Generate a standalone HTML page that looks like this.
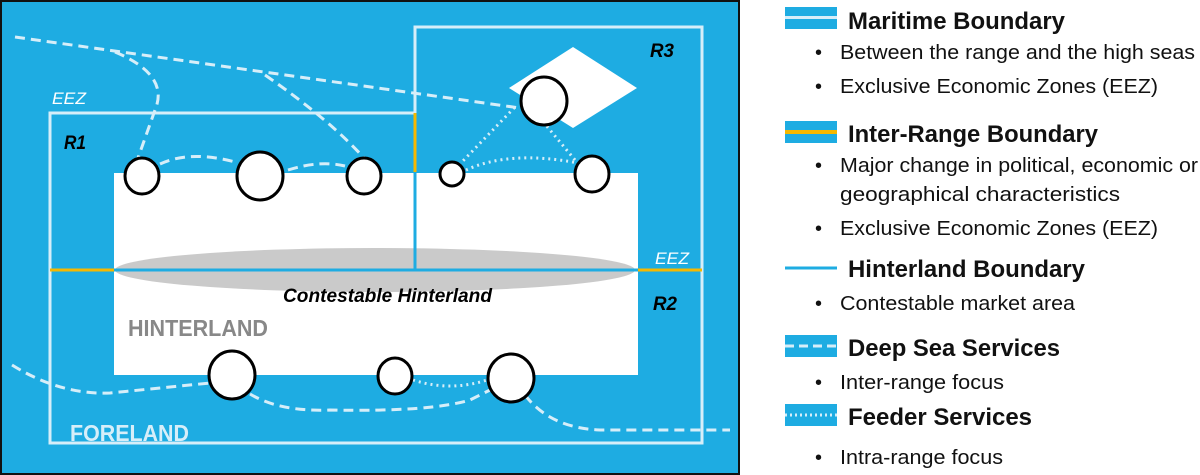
<!DOCTYPE html>
<html><head><style>
body{margin:0;width:1200px;height:475px;background:#fff;overflow:hidden;font-family:"Liberation Sans",sans-serif}
svg{position:absolute;left:0;top:0}
</style></head><body>
<svg width="1200" height="475" viewBox="0 0 1200 475">
<rect x="1" y="1" width="738" height="473" fill="#1eace2" stroke="#111" stroke-width="2"/>
<g fill="none" stroke="#d6eef9" stroke-width="3">
<polyline points="415,113 415,27 702,27 702,443 50,443 50,113 415,113"/>
</g>
<rect x="114" y="173" width="524" height="202" fill="#fff"/>
<ellipse cx="375" cy="270" rx="260" ry="22" fill="#cacaca"/>
<line x1="415" y1="113" x2="415" y2="172" stroke="#f5b800" stroke-width="3"/>
<line x1="415" y1="173" x2="415" y2="270" stroke="#1eace2" stroke-width="3"/>
<line x1="50" y1="270" x2="114" y2="270" stroke="#f5b800" stroke-width="3"/>
<line x1="638" y1="270" x2="702" y2="270" stroke="#f5b800" stroke-width="3"/>
<line x1="114" y1="270" x2="638" y2="270" stroke="#1eace2" stroke-width="3"/>
<polygon points="573,47 637,88 573,128 509,88" fill="#fff"/>
<g fill="none" stroke="#d6eef9" stroke-width="3" stroke-dasharray="10,6">
<path d="M15,37 L520,108"/>
<path d="M115,52 Q170,75 155,110 L138,158"/>
<path d="M265,75 Q330,120 364,158"/>
<path d="M160,164 Q190,150 235,162"/>
<path d="M288,170 Q320,160 345,166"/>
<path d="M12,365 Q60,395 110,393 L210,383"/>
<path d="M250,394 Q280,412 330,410 Q430,412 470,400 L490,390"/>
<path d="M525,395 Q550,428 600,430 L730,430"/>
</g>
<g fill="none" stroke="#d6eef9" stroke-width="3" stroke-dasharray="2,4">
<path d="M459,165 L515,107"/>
<path d="M575,160 L535,112"/>
<path d="M466,170 Q510,150 578,163"/>
<path d="M413,380 Q450,392 487,380"/>
</g>
<g fill="#fff" stroke="#000" stroke-width="3">
<ellipse cx="142" cy="176" rx="17" ry="18"/>
<ellipse cx="260" cy="176" rx="23" ry="24"/>
<ellipse cx="364" cy="176" rx="17" ry="18"/>
<ellipse cx="452" cy="174" rx="12" ry="12"/>
<ellipse cx="592" cy="174" rx="17" ry="18"/>
<ellipse cx="544" cy="101" rx="23" ry="24"/>
<ellipse cx="232" cy="375" rx="23" ry="24"/>
<ellipse cx="395" cy="376" rx="17" ry="18"/>
<ellipse cx="511" cy="378" rx="23" ry="24"/>
</g>
<g font-family="Liberation Sans" font-style="italic" font-weight="bold">
<text x="52" y="104" fill="#fff" font-size="17" font-weight="normal" textLength="34" lengthAdjust="spacingAndGlyphs">EEZ</text>
<text x="655" y="264" fill="#fff" font-size="17" font-weight="normal" textLength="34" lengthAdjust="spacingAndGlyphs">EEZ</text>
<text x="64" y="149" font-size="19" textLength="22" lengthAdjust="spacingAndGlyphs">R1</text>
<text x="650" y="57" font-size="19" textLength="24" lengthAdjust="spacingAndGlyphs">R3</text>
<text x="653" y="310" font-size="19" textLength="24" lengthAdjust="spacingAndGlyphs">R2</text>
<text x="283" y="302" font-size="19" textLength="209" lengthAdjust="spacingAndGlyphs">Contestable Hinterland</text>
</g>
<text x="128" y="336" fill="#888" font-size="23" font-weight="bold" textLength="140" lengthAdjust="spacingAndGlyphs">HINTERLAND</text>
<text x="70" y="441" fill="#d6eef9" font-size="23" font-weight="bold" textLength="119" lengthAdjust="spacingAndGlyphs">FORELAND</text>
<rect x="785" y="7" width="52" height="22" fill="#1eace2"/><rect x="785" y="16" width="52" height="3" fill="#d6eef9"/>
<rect x="785" y="121" width="52" height="22" fill="#1eace2"/><rect x="785" y="130" width="52" height="4" fill="#f5b800"/>
<line x1="785" y1="268" x2="837" y2="268" stroke="#1eace2" stroke-width="3"/>
<rect x="785" y="335" width="52" height="22" fill="#1eace2"/><line x1="785" y1="346" x2="837" y2="346" stroke="#d6eef9" stroke-width="3" stroke-dasharray="9,5"/>
<rect x="785" y="404" width="52" height="22" fill="#1eace2"/><line x1="785" y1="415" x2="837" y2="415" stroke="#d6eef9" stroke-width="3" stroke-dasharray="2,3"/>
<g font-size="24" font-weight="bold" fill="#111" lengthAdjust="spacingAndGlyphs">
<text x="848" y="29" textLength="217" lengthAdjust="spacingAndGlyphs">Maritime Boundary</text>
<text x="848" y="142" textLength="250" lengthAdjust="spacingAndGlyphs">Inter-Range Boundary</text>
<text x="848" y="277" textLength="237" lengthAdjust="spacingAndGlyphs">Hinterland Boundary</text>
<text x="848" y="356" textLength="212" lengthAdjust="spacingAndGlyphs">Deep Sea Services</text>
<text x="848" y="425" textLength="184" lengthAdjust="spacingAndGlyphs">Feeder Services</text>
</g>
<g font-size="20" fill="#111">
<text x="815" y="59">•</text><text x="840" y="59" textLength="355" lengthAdjust="spacingAndGlyphs">Between the range and the high seas</text>
<text x="815" y="93">•</text><text x="840" y="93" textLength="318" lengthAdjust="spacingAndGlyphs">Exclusive Economic Zones (EEZ)</text>
<text x="815" y="172">•</text><text x="840" y="172" textLength="358" lengthAdjust="spacingAndGlyphs">Major change in political, economic or</text>
<text x="840" y="201" textLength="280" lengthAdjust="spacingAndGlyphs">geographical characteristics</text>
<text x="815" y="235">•</text><text x="840" y="235" textLength="318" lengthAdjust="spacingAndGlyphs">Exclusive Economic Zones (EEZ)</text>
<text x="815" y="310">•</text><text x="840" y="310" textLength="235" lengthAdjust="spacingAndGlyphs">Contestable market area</text>
<text x="815" y="389">•</text><text x="840" y="389" textLength="164" lengthAdjust="spacingAndGlyphs">Inter-range focus</text>
<text x="815" y="464">•</text><text x="840" y="464" textLength="163" lengthAdjust="spacingAndGlyphs">Intra-range focus</text>
</g>
</svg>
</body></html>
